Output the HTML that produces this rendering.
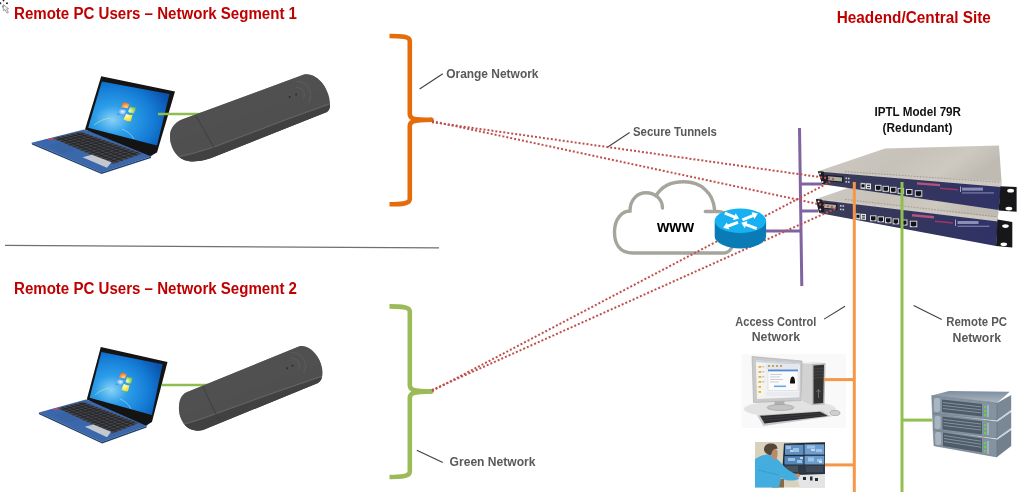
<!DOCTYPE html>
<html><head><meta charset="utf-8">
<style>
html,body{margin:0;padding:0;background:#fff;width:1024px;height:500px;overflow:hidden}
svg{display:block;position:absolute;left:0;top:0;will-change:transform}
text{font-family:"Liberation Sans",sans-serif;font-weight:bold}
</style></head><body>
<svg width="1024" height="500" viewBox="0 0 1024 500">
<defs>
  <radialGradient id="scr" cx="0.3" cy="0.6" r="0.75">
    <stop offset="0" stop-color="#8ad2f8"/>
    <stop offset="0.3" stop-color="#2c9ee9"/>
    <stop offset="0.7" stop-color="#137ad4"/>
    <stop offset="1" stop-color="#0b52ac"/>
  </radialGradient>
  <linearGradient id="usbg" x1="0" y1="0" x2="0" y2="1">
    <stop offset="0" stop-color="#5c5c5c"/>
    <stop offset="0.5" stop-color="#4c4c4c"/>
    <stop offset="0.82" stop-color="#404040"/>
    <stop offset="0.88" stop-color="#5a5a5a"/>
    <stop offset="1" stop-color="#363636"/>
  </linearGradient>
  <linearGradient id="topg" x1="0" y1="0" x2="1" y2="0.3">
    <stop offset="0" stop-color="#cfcbc4"/>
    <stop offset="0.5" stop-color="#c6c1b9"/>
    <stop offset="0.8" stop-color="#cdc8c0"/>
    <stop offset="1" stop-color="#bfbab2"/>
  </linearGradient>
  <linearGradient id="faceg" x1="0" y1="0" x2="1" y2="0">
    <stop offset="0" stop-color="#3d3e58"/>
    <stop offset="0.4" stop-color="#35375c"/>
    <stop offset="1" stop-color="#2f3266"/>
  </linearGradient>
  <radialGradient id="wo" cx="0.6" cy="0.7" r="0.8"><stop offset="0" stop-color="#fcd9a0"/><stop offset="0.5" stop-color="#f8943a"/><stop offset="1" stop-color="#f06020"/></radialGradient>
  <radialGradient id="wg" cx="0.3" cy="0.6" r="0.8"><stop offset="0" stop-color="#f0f8d0"/><stop offset="0.5" stop-color="#a8d860"/><stop offset="1" stop-color="#6ab030"/></radialGradient>
  <radialGradient id="wb" cx="0.6" cy="0.4" r="0.8"><stop offset="0" stop-color="#e8f6ff"/><stop offset="0.5" stop-color="#70b8f0"/><stop offset="1" stop-color="#1c64c8"/></radialGradient>
  <radialGradient id="wy" cx="0.4" cy="0.3" r="0.8"><stop offset="0" stop-color="#fffbe0"/><stop offset="0.5" stop-color="#f8ec50"/><stop offset="1" stop-color="#f0d010"/></radialGradient>
  <linearGradient id="srvtop" x1="0" y1="0" x2="0" y2="1"><stop offset="0" stop-color="#7e8e9d"/><stop offset="1" stop-color="#acb8c3"/></linearGradient>
</defs>

<!-- cursor -->
<g fill="#2a2a2a"><circle cx="3.5" cy="0.6" r="0.9"/><circle cx="0.4" cy="3.2" r="1"/><circle cx="7" cy="3.2" r="1"/><circle cx="3.2" cy="6.5" r="0.9"/></g>
<path d="M3.3,4.5 L3.3,10.8 L5,9.6 L7,13.2 L8.4,12.4 L6.6,9 L8.6,8.8 Z" fill="#f4f4f4" stroke="#8a8a8a" stroke-width="0.8"/>

<!-- Titles -->
<text x="14" y="18.5" font-size="16" fill="#c00000" textLength="283" lengthAdjust="spacingAndGlyphs">Remote PC Users – Network Segment 1</text>
<text x="14" y="294" font-size="16" fill="#c00000" textLength="283" lengthAdjust="spacingAndGlyphs">Remote PC Users – Network Segment 2</text>
<text x="836.7" y="22.5" font-size="16" fill="#c00000" textLength="154.2" lengthAdjust="spacingAndGlyphs">Headend/Central Site</text>

<!-- separator -->
<line x1="5" y1="245.4" x2="439" y2="247.9" stroke="#707070" stroke-width="1.3"/>

<!-- braces -->
<path d="M389.5,36 C402,36 409.8,36.5 409.8,41 L409.8,114 C409.8,118.5 412,119.8 432,119.8 M409.8,200 L409.8,126 C409.8,121.5 412,120.2 432,119.8 M389.5,204.3 C402,204.3 409.8,203.8 409.8,199" fill="none" stroke="#e46c0a" stroke-width="4.6" stroke-linecap="butt" stroke-linejoin="round"/>
<path d="M389.5,306.4 C402,306.4 409.8,306.9 409.8,311.4 L409.8,385 C409.8,389.5 412,391.4 432,391.4 M409.8,472 L409.8,398 C409.8,393.5 412,391.8 432,391.4 M389.5,477 C402,477 409.8,476.5 409.8,471.5" fill="none" stroke="#9bbb59" stroke-width="4.6" stroke-linecap="butt" stroke-linejoin="round"/>

<circle cx="431.5" cy="119.8" r="2.3" fill="#e46c0a"/>
<circle cx="431.5" cy="391.4" r="2.3" fill="#9bbb59"/>
<!-- leader lines -->
<g stroke="#404040" stroke-width="1.1">
<line x1="419.6" y1="89" x2="442.8" y2="73.7"/>
<line x1="416.8" y1="450.3" x2="442.8" y2="462.6"/>
<line x1="607.1" y1="147.5" x2="629.6" y2="132.5"/>
<line x1="824.1" y1="319.1" x2="845" y2="306.2"/>
<line x1="913.6" y1="305.5" x2="941.7" y2="319.4"/>
</g>

<!-- labels -->
<g fill="#595959">
<text x="446.2" y="77.5" font-size="12" textLength="92.3" lengthAdjust="spacingAndGlyphs">Orange Network</text>
<text x="449.6" y="466.2" font-size="12" textLength="85.9" lengthAdjust="spacingAndGlyphs">Green Network</text>
<text x="633" y="136.2" font-size="12" textLength="83.9" lengthAdjust="spacingAndGlyphs">Secure Tunnels</text>
<text x="735.3" y="325.7" font-size="12" textLength="81" lengthAdjust="spacingAndGlyphs">Access Control</text>
<text x="751.7" y="341.3" font-size="12" textLength="48.5" lengthAdjust="spacingAndGlyphs">Network</text>
<text x="946.3" y="325.5" font-size="12" textLength="60.8" lengthAdjust="spacingAndGlyphs">Remote PC</text>
<text x="952.5" y="341.6" font-size="12" textLength="48.5" lengthAdjust="spacingAndGlyphs">Network</text>
</g>
<g fill="#111">
<text x="874.5" y="115.9" font-size="12.2" textLength="86.5" lengthAdjust="spacingAndGlyphs">IPTL Model 79R</text>
<text x="882.6" y="131.7" font-size="12.2" textLength="69.8" lengthAdjust="spacingAndGlyphs">(Redundant)</text>
</g>

<!-- purple network -->
<g stroke="#8064a2" stroke-width="3" fill="none">
<line x1="799.5" y1="128" x2="801.8" y2="286"/>
<line x1="800" y1="184" x2="822" y2="184"/>
<line x1="800.5" y1="211" x2="818" y2="211"/>
<line x1="760" y1="231" x2="801" y2="231"/>
</g>

<!-- cloud -->
<path d="M724,253 L633,253 C619,253 614.5,243 614.5,232 C614.5,219 622,211 630,211 C630,199 638,192.8 646,192.8 C655,192.8 662.5,199 662.5,208 M656,196 C661,187 671,181.8 684,181.8 C701,181.8 713,193 714.5,209 M705.3,211.5 L717,211.5 C729,211.5 736,221 736,232 C736,244 730,253 724,253" fill="none" stroke="#a6a59d" stroke-width="3.4" stroke-linecap="round"/>
<text x="657" y="231.5" font-size="16.8" fill="#000" textLength="37" lengthAdjust="spacingAndGlyphs">www</text>

<!-- RACK DEVICE 2 (bottom) -->
<g id="dev2">
  <polygon points="816,199 883,176 998,174 998.5,213 997.5,218.5" fill="url(#topg)"/>
  <polygon points="816,199 998,217.5 998,222 816.5,200" fill="#cdc9c1"/>
  <line x1="845" y1="199.4" x2="997" y2="216.8" stroke="#8f8a82" stroke-width="0.7" stroke-dasharray="1.6 1.4"/>
  <polygon points="816,199.5 998,221.5 996,246 819,213" fill="url(#faceg)"/>
  <polygon points="816,199 822,199.6 824.5,212.3 819,211.8" fill="#1c1c24"/>
  <circle cx="818.6" cy="201.4" r="1" fill="#ddd"/>
  <circle cx="820.3" cy="209.6" r="1" fill="#ddd"/>
  <polygon points="821.5,202.3 837.5,203.8 837.5,210 821.5,208.5" fill="#1e1f2a"/>
  <polygon points="824,203.8 836,204.9 836,208.8 824,207.7" fill="#a8b0a4"/>
  <g fill="#c8cad4"><rect x="840" y="205" width="1.6" height="1.6"/><rect x="842.5" y="205.2" width="1.6" height="1.6"/><rect x="840" y="208.6" width="1.6" height="1.6"/><rect x="842.5" y="208.8" width="1.6" height="1.6"/></g>
  <g>
  <polygon points="855.5,213.2 860.5,213.6 860.5,219.7 855.5,219.3" fill="#cfd0d4"/>
  <rect x="856.5" y="214.8" width="3" height="3" fill="#111"/>
  <polygon points="861.0,213.7 866.0,214.1 866.0,220.0 861.0,219.6" fill="#e6e6e8"/>
  <rect x="862.0" y="215.2" width="3" height="1.2" fill="#333"/>
  <rect x="862.0" y="217.5" width="3" height="1.2" fill="#333"/>
  <rect x="870.0" y="215.3" width="6.5" height="6" fill="#d4d5d8"/>
  <rect x="871.0" y="216.3" width="4.5" height="3.8" fill="#141414"/>
  <rect x="872.2" y="219.7" width="2.1" height="0.8" fill="#141414"/>
  <rect x="877.5" y="216.3" width="6.5" height="6" fill="#d4d5d8"/>
  <rect x="878.5" y="217.3" width="4.5" height="3.8" fill="#141414"/>
  <rect x="879.7" y="220.7" width="2.1" height="0.8" fill="#141414"/>
  <rect x="885.0" y="217.3" width="6.5" height="6" fill="#d4d5d8"/>
  <rect x="886.0" y="218.3" width="4.5" height="3.8" fill="#141414"/>
  <rect x="887.2" y="221.7" width="2.1" height="0.8" fill="#141414"/>
  <rect x="892.6" y="218.4" width="6.5" height="6" fill="#d4d5d8"/>
  <rect x="893.6" y="219.4" width="4.5" height="3.8" fill="#141414"/>
  <rect x="894.8" y="222.8" width="2.1" height="0.8" fill="#141414"/>
  <rect x="901.0" y="219.5" width="6.5" height="6" fill="#d4d5d8"/>
  <rect x="902.0" y="220.5" width="4.5" height="3.8" fill="#141414"/>
  <rect x="903.2" y="223.9" width="2.1" height="0.8" fill="#141414"/>
  <rect x="909.8" y="220.7" width="7.5" height="6.5" fill="#d4d5d8"/>
  <rect x="910.8" y="221.7" width="5.5" height="4.3" fill="#141414"/>
  <rect x="912.0" y="225.6" width="3.1" height="0.8" fill="#141414"/>
  </g>
  <polygon points="912,214 934,216 934,218.5 912,216.5" fill="#c45a86" opacity="0.85"/>
  <polygon points="935,220.5 953,222.2 953,223.8 935,222.1" fill="#c0396a" opacity="0.75"/>
  <rect x="955" y="219.5" width="0.8" height="6.5" fill="#c0c4d8"/>
  <rect x="957.5" y="221" width="21" height="3" fill="#a8aed0" opacity="0.75"/>
  <rect x="957.5" y="225.6" width="32" height="1.4" fill="#8a90b8" opacity="0.7"/>
  <polygon points="997.5,219.5 1012.3,221.9 1012.3,247.4 996,246" fill="#17171a"/>
  <ellipse cx="1005.5" cy="226.1" rx="3.3" ry="1.8" fill="#fff"/>
  <ellipse cx="1003.8" cy="244.3" rx="3.3" ry="1.8" fill="#fff"/>
</g>
<!-- RACK DEVICE 1 (top) -->
<g id="dev1">
  <polygon points="818,171.2 885,148.6 999,145.4 1001.5,181 1001,186" fill="url(#topg)"/>
  <polygon points="818,171.2 1001.5,181 1001.3,187 818.5,172" fill="#cdc9c1"/>
  <line x1="845" y1="171.6" x2="1000" y2="182.2" stroke="#8f8a82" stroke-width="0.7" stroke-dasharray="1.6 1.4"/>
  <polygon points="818,171.5 1001,187 998.7,210 822.4,184.2" fill="url(#faceg)"/>
  <polygon points="818,171.2 823.5,171.6 826.5,184.6 822.4,184.2" fill="#1c1c24"/>
  <circle cx="820" cy="173.4" r="1" fill="#ddd"/>
  <circle cx="822.5" cy="182" r="1" fill="#ddd"/>
  <polygon points="825.5,174.8 843.5,176.3 843.5,182.8 825.5,181.3" fill="#1e1f2a"/>
  <polygon points="828,176.3 842,177.5 842,181.4 828,180.2" fill="#a8b0a4"/>
  <g fill="#c8cad4"><rect x="845.5" y="177.5" width="1.6" height="1.6"/><rect x="848" y="177.7" width="1.6" height="1.6"/><rect x="845.5" y="181" width="1.6" height="1.6"/><rect x="848" y="181.2" width="1.6" height="1.6"/></g>
  <g>
  <polygon points="860.5,182.7 865.5,183.1 865.5,189.2 860.5,188.8" fill="#cfd0d4"/>
  <rect x="861.5" y="184.3" width="3" height="3" fill="#111"/>
  <polygon points="866.0,183.2 871.0,183.6 871.0,189.5 866.0,189.1" fill="#e6e6e8"/>
  <rect x="867.0" y="184.7" width="3" height="1.2" fill="#333"/>
  <rect x="867.0" y="187.0" width="3" height="1.2" fill="#333"/>
  <rect x="875.0" y="184.8" width="6.5" height="6" fill="#d4d5d8"/>
  <rect x="876.0" y="185.8" width="4.5" height="3.8" fill="#141414"/>
  <rect x="877.2" y="189.2" width="2.1" height="0.8" fill="#141414"/>
  <rect x="882.5" y="185.8" width="6.5" height="6" fill="#d4d5d8"/>
  <rect x="883.5" y="186.8" width="4.5" height="3.8" fill="#141414"/>
  <rect x="884.7" y="190.2" width="2.1" height="0.8" fill="#141414"/>
  <rect x="890.0" y="186.8" width="6.5" height="6" fill="#d4d5d8"/>
  <rect x="891.0" y="187.8" width="4.5" height="3.8" fill="#141414"/>
  <rect x="892.2" y="191.2" width="2.1" height="0.8" fill="#141414"/>
  <rect x="897.6" y="187.9" width="6.5" height="6" fill="#d4d5d8"/>
  <rect x="898.6" y="188.9" width="4.5" height="3.8" fill="#141414"/>
  <rect x="899.8" y="192.3" width="2.1" height="0.8" fill="#141414"/>
  <rect x="906.0" y="189.0" width="6.5" height="6" fill="#d4d5d8"/>
  <rect x="907.0" y="190.0" width="4.5" height="3.8" fill="#141414"/>
  <rect x="908.2" y="193.4" width="2.1" height="0.8" fill="#141414"/>
  <rect x="914.8" y="190.2" width="7.5" height="6.5" fill="#d4d5d8"/>
  <rect x="915.8" y="191.2" width="5.5" height="4.3" fill="#141414"/>
  <rect x="917.0" y="195.1" width="3.1" height="0.8" fill="#141414"/>
  </g>
  <polygon points="917,182.3 940,184 940,186.3 917,184.6" fill="#c45a86" opacity="0.85"/>
  <polygon points="940,187.5 958,189 958,190.6 940,189.1" fill="#c0396a" opacity="0.75"/>
  <rect x="960" y="186.5" width="0.8" height="5.5" fill="#c0c4d8"/>
  <rect x="962" y="187.6" width="21" height="3" fill="#a8aed0" opacity="0.75"/>
  <rect x="962" y="192.2" width="32" height="1.4" fill="#8a90b8" opacity="0.7"/>
  <polygon points="1000.4,186.2 1016.6,187 1016.6,211.7 998.7,210.5" fill="#17171a"/>
  <ellipse cx="1010.6" cy="190.7" rx="3.4" ry="1.9" fill="#fff"/>
  <ellipse cx="1008.9" cy="208.6" rx="3.4" ry="1.9" fill="#fff"/>
</g>

<!-- dotted tunnels -->
<g stroke="#c0504d" stroke-width="2" stroke-dasharray="2 2" fill="none">
<line x1="432" y1="122.2" x2="834" y2="179.1"/>
<line x1="432" y1="121.1" x2="836" y2="207.9"/>
<line x1="432" y1="391" x2="830" y2="182"/>
<line x1="432" y1="390" x2="836" y2="208.4"/>
</g>

<!-- router -->
<g>
<path d="M714.7,220.8 L714.7,236.2 A25.7,12.2 0 0 0 766.1,236.2 L766.1,220.8 Z" fill="#0b7bb6"/>
<ellipse cx="740.4" cy="220.8" rx="25.7" ry="12.2" fill="#17b1f2"/>
<g fill="#fff">
<polygon points="724.3,214.6 733.7,218.2 732.9,220.3 739.1,218.6 735.6,213.2 734.8,215.4 725.3,211.8"/>
<polygon points="743.0,221.2 753.5,216.9 754.4,219.1 757.8,213.6 751.6,212.0 752.4,214.2 741.8,218.4"/>
<polygon points="737.5,220.9 727.6,224.6 726.8,222.4 723.2,227.8 729.4,229.6 728.6,227.4 738.5,223.7"/>
<polygon points="757.2,227.2 746.7,223.2 747.5,221.1 741.3,222.8 744.8,228.2 745.6,226.0 756.2,230.0"/>
</g>
</g>

<!-- LAPTOP 1 -->
<g id="laptop">
  <!-- deck -->
  <polygon points="31.6,142.7 84,129.5 157,151.5 151,156.5 101.2,172.5" fill="#3a68aa"/>
  <polygon points="31.6,142.7 101.2,172.5 151,156.5 151,158 101.5,174 32,144.5" fill="#22406e"/>
  <polygon points="42,140.5 47,139.3 47.5,140.8 42.5,142" fill="#3a5fc0"/>
  <polygon points="48,139 55,137.3 55.5,138.8 48.5,140.5" fill="#c04860"/>
  <!-- keyboard -->
  <polygon points="52.8,138.3 80.7,131.7 142.2,153.7 112.9,164" fill="#44454a"/>
  <g stroke="#1c1c1e" stroke-width="0.7">
    <line x1="57.4" y1="137.2" x2="117.8" y2="162.3"/>
    <line x1="62.1" y1="136.1" x2="122.7" y2="160.6"/>
    <line x1="66.8" y1="135.0" x2="127.5" y2="158.8"/>
    <line x1="71.4" y1="133.9" x2="132.4" y2="157.1"/>
    <line x1="76.1" y1="132.8" x2="137.3" y2="155.4"/>
    <line x1="56.8" y1="140.0" x2="84.8" y2="133.2"/>
    <line x1="60.8" y1="141.7" x2="88.9" y2="134.6"/>
    <line x1="64.8" y1="143.4" x2="93.0" y2="136.1"/>
    <line x1="68.8" y1="145.2" x2="97.1" y2="137.6"/>
    <line x1="72.8" y1="146.9" x2="101.2" y2="139.0"/>
    <line x1="76.8" y1="148.6" x2="105.3" y2="140.5"/>
    <line x1="80.8" y1="150.3" x2="109.4" y2="142.0"/>
    <line x1="84.9" y1="152.0" x2="113.5" y2="143.4"/>
    <line x1="88.9" y1="153.7" x2="117.6" y2="144.9"/>
    <line x1="92.9" y1="155.4" x2="121.7" y2="146.4"/>
    <line x1="96.9" y1="157.1" x2="125.8" y2="147.8"/>
    <line x1="100.9" y1="158.9" x2="129.9" y2="149.3"/>
    <line x1="104.9" y1="160.6" x2="134.0" y2="150.8"/>
    <line x1="108.9" y1="162.3" x2="138.1" y2="152.2"/>
  </g>
  <!-- touchpad -->
  <polygon points="49,145 63,142.5 75,150 61,153" fill="#3864a6"/>
  <!-- silver plate -->
  <polygon points="82.5,157.2 92,154.8 111.5,162.3 107,167.8" fill="#c3c8cf"/>
  <!-- screen bezel -->
  <polygon points="101.2,76.3 175,91.6 157,152.5 150,156 85,129.4" fill="#141414"/>
  <!-- screen -->
  <polygon points="101.8,81.4 169.5,93.9 157,145.4 88.2,127.8" fill="url(#scr)"/>
  <path d="M94,125 C99,121 104,119 110,118" fill="none" stroke="#c8f0a0" stroke-width="0.8" opacity="0.7"/>
  <path d="M122,129 C127,131 131,134 134,139" fill="none" stroke="#b0e0fa" stroke-width="0.8" opacity="0.8"/>
  <!-- windows logo -->
  <g>
    <path d="M123.2,102.6 C125.3,102.2 127.3,102.8 129.5,104 L127.7,108.6 C125.5,107.6 123.3,107.4 120.8,108 Z" fill="url(#wo)"/>
    <path d="M130,106.6 C132,107.6 134,107.8 136.2,107.2 L134.2,113.3 C132.2,113.7 130.2,113.1 127.9,111.8 Z" fill="url(#wg)"/>
    <path d="M119.3,109.4 C121.6,108.9 123.9,109.2 126.3,110.4 L124.1,115.6 C121.7,114.6 119.5,114.5 117.2,115 Z" fill="url(#wb)"/>
    <path d="M126.3,113.7 C128.4,114.9 130.5,115.3 132.6,114.8 L130.8,121.2 C128.7,121.6 126.4,121.1 123.4,119.6 Z" fill="url(#wy)"/>
  </g>
</g>
<!-- LAPTOP 2 -->
<use href="#laptop" transform="matrix(0.9015,-0.0013,0.0112,0.9866,8.71,271.85)"/>

<!-- green connectors -->
<line x1="158" y1="114" x2="205" y2="114" stroke="#8fbd52" stroke-width="2.6"/>
<line x1="162" y1="385" x2="208" y2="385" stroke="#8fbd52" stroke-width="2.6"/>

<!-- USB 1 -->
<clipPath id="u1c"><path d="M186,118 L304,74.5 C317,72 330,89 330,104 C330,108 329.5,110 327,112 L215,156.5 C206,160 200,161.5 192,161.4 C178,161 169.5,149 170,135 C170.5,127 176,121 186,118 Z"/></clipPath>
<g clip-path="url(#u1c)">
  <rect x="160" y="60" width="180" height="110" fill="#4f4f4f"/>
  <path d="M150,150 L240,118 L330,88 L330,70 L300,70 L150,118 Z" fill="#525252" opacity="0.6"/>
  <path d="M175,158 C185,156.5 195,154 215,147.5 L290,119 L332,104 L340,170 L160,170 Z" fill="#414141"/>
  <path d="M175,157 C185,155.5 195,153 215,146.5 L290,118 L332,103" fill="none" stroke="#646464" stroke-width="1"/>
  <path d="M196,116 C202,127 209,138 214,148" fill="none" stroke="#3a3a3a" stroke-width="0.8"/>
  <path d="M296,87.6 A7.6,7.6 0 0 1 303.3,99" fill="none" stroke="#5e5a58" stroke-width="1.1"/>
  <path d="M296.8,81.4 A13.8,13.8 0 0 1 308.8,102" fill="none" stroke="#5e5a58" stroke-width="1.1"/>
  <circle cx="289.6" cy="97" r="1" fill="#2c2c2c"/>
  <circle cx="296.2" cy="94.6" r="1" fill="#2c2c2c"/>
</g>
<!-- USB 2 -->
<clipPath id="u2c"><path d="M188.5,391.5 L299.5,346.3 C311,344 322.5,360 322.5,372 C322.5,378 321,381 318,383 L203,430 C187,434 178,420 179,406 C179.5,398 183,393 188.5,391.5 Z"/></clipPath>
<g clip-path="url(#u2c)">
  <rect x="170" y="335" width="160" height="105" fill="#4f4f4f"/>
  <path d="M160,425 L250,390 L330,360 L330,335 L300,335 L160,395 Z" fill="#525252" opacity="0.6"/>
  <path d="M180,426 C188,424 195,422 205,418.5 L270,395 L325,376 L330,440 L170,440 Z" fill="#414141"/>
  <path d="M180,425 C188,423 195,421 205,417.5 L270,394 L325,375" fill="none" stroke="#646464" stroke-width="1"/>
  <path d="M203,386.5 C208,398 214,410 219,420" fill="none" stroke="#3a3a3a" stroke-width="0.8"/>
  <path d="M291.3,358.5 A7.5,7.5 0 0 1 298.5,369.7" fill="none" stroke="#5e5a58" stroke-width="1.1"/>
  <path d="M290.8,352.6 A13.5,13.5 0 0 1 303.7,372.7" fill="none" stroke="#5e5a58" stroke-width="1.1"/>
  <circle cx="287.2" cy="368.3" r="1" fill="#2c2c2c"/>
  <circle cx="292.5" cy="365.7" r="1" fill="#2c2c2c"/>
</g>

<!-- ACCESS CONTROL PC -->
<g id="pc">
  <rect x="741.5" y="354" width="104.5" height="74" fill="#f9f9f9"/>
  <ellipse cx="790" cy="409" rx="46" ry="8.5" fill="#e2e2e2"/>
  <!-- tower -->
  <polygon points="801,363 812,364 812,405.3 802,400.8" fill="#d2d2d2"/>
  <polygon points="801,363 812,364 825.5,363 814,362" fill="#e6e6e6"/>
  <polygon points="812,364 825.5,363 824.6,404.4 812,405.3" fill="#bdbdbd"/>
  <polygon points="813.5,365.5 824,364.7 823.2,403 813.5,403.8" fill="#333"/>
  <g stroke="#555" stroke-width="0.5"><line x1="814" y1="369" x2="823.5" y2="368.5"/><line x1="814" y1="372" x2="823.5" y2="371.5"/><line x1="814" y1="375" x2="823.5" y2="374.5"/><line x1="814" y1="378" x2="823.5" y2="377.5"/></g>
  <path d="M818.5,398 L818.5,390 M816.5,392 L818.5,389.5 L820.5,392" stroke="#888" stroke-width="0.7" fill="none"/>
  <!-- monitor -->
  <polygon points="775,400 784,400 785,406.5 774,406.5" fill="#b0b0b0"/>
  <ellipse cx="780.5" cy="407.5" rx="13.5" ry="3" fill="#c4c4c4" stroke="#9a9a9a" stroke-width="0.6"/>
  <polygon points="752,356.5 802,361 801.2,400.5 753.5,402.5" fill="#c9c9c9" stroke="#a8a8a8" stroke-width="0.6"/>
  <polygon points="755.8,360.3 799.9,363.5 799.4,397.2 757.1,399" fill="#f0f1f3"/>
  <polygon points="755.8,360.3 799.9,363.5 799.9,365 755.8,362" fill="#c6d3e2"/>
  <rect x="757" y="363" width="8" height="35" fill="#f6f3ea"/>
  <g fill="#e0b040"><rect x="758.5" y="366" width="2.5" height="1.8"/><rect x="758.5" y="371" width="2.5" height="1.8"/><rect x="758.5" y="376" width="2.5" height="1.8"/><rect x="758.5" y="381" width="2.5" height="1.8"/><rect x="758.5" y="386" width="2.5" height="1.8"/><rect x="758.5" y="391" width="2.5" height="1.8"/></g>
  <g fill="#b8bcc4"><rect x="761.5" y="366.3" width="3" height="1"/><rect x="761.5" y="371.3" width="3" height="1"/><rect x="761.5" y="376.3" width="3" height="1"/><rect x="761.5" y="381.3" width="3" height="1"/></g>
  <rect x="766" y="364" width="33" height="5" fill="#e4e8ee"/>
  <g fill="#c8a060"><rect x="768" y="365" width="2" height="2"/><rect x="772" y="365" width="2" height="2"/><rect x="776" y="365" width="2" height="2"/><rect x="780" y="365" width="2" height="2"/></g>
  <rect x="768" y="369.5" width="30" height="2" fill="#4a8ad6"/>
  <rect x="768" y="371.5" width="30" height="19" fill="#fbfbfb" stroke="#c4c8cc" stroke-width="0.4"/>
  <g fill="#c4c8d0"><rect x="770" y="374" width="12" height="0.9"/><rect x="770" y="376.5" width="10" height="0.9"/><rect x="770" y="379" width="13" height="0.9"/><rect x="770" y="381.5" width="9" height="0.9"/></g>
  <path d="M790,383.5 C790,380 790.8,376.5 792.6,376.5 C794.4,376.5 795.2,380 795,383.5 Z" fill="#111"/>
  <rect x="774" y="385.5" width="12" height="1.6" fill="#6aa8e0"/>
  <rect x="766" y="392" width="33" height="4" fill="#e8ebef"/>
  <!-- keyboard -->
  <polygon points="757,415.2 821,410.7 831.8,416.3 763.4,426" fill="#c6c9cc"/>
  <polygon points="760,415.8 820,411.7 828,416 764.5,423.5" fill="#2b2b2e"/>
  <g stroke="#555" stroke-width="0.4"><line x1="762" y1="418" x2="824" y2="413"/><line x1="763" y1="420.5" x2="826" y2="415"/></g>
  <ellipse cx="835" cy="413" rx="5" ry="2.6" fill="#cfcfcf" stroke="#8a8a8a" stroke-width="0.5"/>
</g>

<!-- SURVEILLANCE PHOTO -->
<g id="photo">
  <rect x="755" y="442" width="70" height="45.5" fill="#d8d2bc"/>
  <!-- monitors wall -->
  <polygon points="784,443.5 825,442.3 825,476 782,474" fill="#1f2a3a"/>
  <rect x="785" y="444.8" width="18.5" height="10" fill="#5e90c4"/>
  <rect x="804.5" y="444.3" width="19.8" height="10.3" fill="#6e9ed0"/>
  <rect x="784.5" y="456.2" width="19" height="8.3" fill="#5486ba"/>
  <rect x="804.5" y="455.8" width="19.8" height="8.7" fill="#6a9ccc"/>
  <g fill="#a6cbea" opacity="0.85">
    <rect x="786" y="446" width="5" height="3"/><rect x="793" y="448" width="6" height="4"/><rect x="807" y="445.5" width="8" height="3"/><rect x="816" y="449" width="6" height="3"/>
    <rect x="788" y="458" width="7" height="3"/><rect x="797" y="460" width="5" height="3"/><rect x="808" y="457.5" width="6" height="4"/><rect x="817" y="459" width="5" height="3"/>
  </g>
  <g fill="#e8f2fa" opacity="0.7">
    <rect x="790" y="450" width="3" height="2"/><rect x="811" y="449" width="4" height="2"/><rect x="800" y="457" width="3" height="2"/><rect x="819" y="461" width="3" height="2"/>
  </g>
  <rect x="783" y="465" width="42" height="8.5" fill="#2f3a44"/>
  <rect x="786" y="466" width="12" height="6" fill="#45525c"/>
  <rect x="806" y="466" width="17" height="6" fill="#3e4a55"/>
  <!-- desk -->
  <polygon points="796,475 825,474 825,487.5 800,487.5" fill="#e2e4e6"/>
  <g fill="#2a2e34"><rect x="803" y="477" width="3" height="3"/><rect x="810" y="476.5" width="2.5" height="4"/><rect x="815" y="478" width="3" height="3"/></g>
  <rect x="772" y="479" width="12" height="8.5" fill="#8a6a44"/>
  <!-- person -->
  <path d="M755,459 C760,456 764,454.5 768,454.5 C773,455 777,458 781,463 C786,469 792,473 798,474.5 L799,479 C794,481 788,481 784,479.5 L781,478 L779,487.5 L755,487.5 Z" fill="#44ade0"/>
  <path d="M758,470 L779,475" stroke="#3590c0" stroke-width="0.6"/>
  <path d="M771,452 C772,448 776,448 777.5,451 C778,455 777,459 775,460 C773,460 771,457 771,452 Z" fill="#b98a6c"/>
  <path d="M764,450 C764,445 767,443.5 771,443.5 C775,443.5 777.5,445.5 777.5,449 C775.5,448.5 773,449 772,452 L771,455 C768,455 765,453.5 764,450 Z" fill="#54463a"/>
  <ellipse cx="797.5" cy="475.5" rx="2.5" ry="2" fill="#c49070"/>
</g>

<!-- SERVER STACK -->
<g id="server">
  <polygon points="931.75,395.5 949,391 1009.75,391.75 997,403" fill="url(#srvtop)"/>
  <!-- right sides -->
  <polygon points="997,403 1011.2,395 1011.2,410 997,420.2" fill="#7a8896"/>
  <polygon points="997,421.7 1011.2,412 1011.2,428 997,438.2" fill="#7a8896"/>
  <polygon points="997,439.7 1011.2,430 1011.2,446 997,457" fill="#72808e"/>
  <polygon points="997,420.2 1011.2,410 1011.2,412 997,421.7" fill="#c6d0d8"/>
  <polygon points="997,438.2 1011.2,428 1011.2,430 997,439.7" fill="#c6d0d8"/>
  <!-- fronts -->
  <polygon points="931.75,395.5 997,403 997,420.2 932.5,413.5" fill="#8493a1" stroke="#5d6a76" stroke-width="0.5"/>
  <polygon points="932.5,413.5 997,421.7 997,438.2 933.2,430" fill="#8493a1" stroke="#5d6a76" stroke-width="0.5"/>
  <polygon points="933.2,430 997,439.7 997,457 934,445.7" fill="#8493a1" stroke="#5d6a76" stroke-width="0.5"/>
  <g fill="#4e5b68">
    <polygon points="942,399.5 982,404 982,416.5 942,412"/>
    <polygon points="942.5,416.5 982,421.2 982,434.5 942.5,429.5"/>
    <polygon points="943,432.5 982,438.5 982,452.5 943,446"/>
  </g>
  <g stroke="#aab6c0" stroke-width="0.6">
    <line x1="943" y1="402.5" x2="981" y2="406.8"/><line x1="943" y1="405.5" x2="981" y2="409.8"/><line x1="943" y1="408.5" x2="981" y2="412.8"/>
    <line x1="943.5" y1="419.5" x2="981" y2="424"/><line x1="943.5" y1="422.5" x2="981" y2="427"/><line x1="943.5" y1="425.5" x2="981" y2="430"/>
    <line x1="944" y1="435.5" x2="981" y2="441.2"/><line x1="944" y1="438.5" x2="981" y2="444.2"/><line x1="944" y1="441.5" x2="981" y2="447.2"/>
  </g>
  <g fill="#a9b5c0">
    <rect x="934" y="398" width="6" height="14" rx="2"/>
    <rect x="934.6" y="416" width="6" height="13" rx="2"/>
    <rect x="935.2" y="432" width="6" height="13" rx="2"/>
  </g>
  <g fill="#5fd444">
    <rect x="984" y="406" width="2.2" height="2.2"/><rect x="984" y="410" width="2.2" height="2.2"/><rect x="984" y="414" width="2.2" height="2.2"/>
    <rect x="984" y="424" width="2.2" height="2.2"/><rect x="984" y="428" width="2.2" height="2.2"/><rect x="984" y="432" width="2.2" height="2.2"/>
    <rect x="984" y="442" width="2.2" height="2.2"/><rect x="984" y="446" width="2.2" height="2.2"/><rect x="984" y="450" width="2.2" height="2.2"/>
  </g>
  <g fill="#c8d2da">
    <rect x="987.5" y="405" width="1" height="12"/><rect x="987.5" y="423" width="1" height="12"/><rect x="987.5" y="441" width="1" height="13"/>
  </g>
</g>

<!-- orange & green verticals -->
<g stroke="#f79646" stroke-width="3" fill="none">
<line x1="854.3" y1="182" x2="854.3" y2="492"/>
<line x1="824" y1="379.6" x2="854" y2="379.6"/>
<line x1="825" y1="464.9" x2="854" y2="464.9"/>
</g>
<g stroke="#92c050" stroke-width="3" fill="none">
<line x1="902" y1="182" x2="902" y2="492"/>
<line x1="902" y1="420.1" x2="932" y2="420.1"/>
</g>

</svg>
</body></html>
